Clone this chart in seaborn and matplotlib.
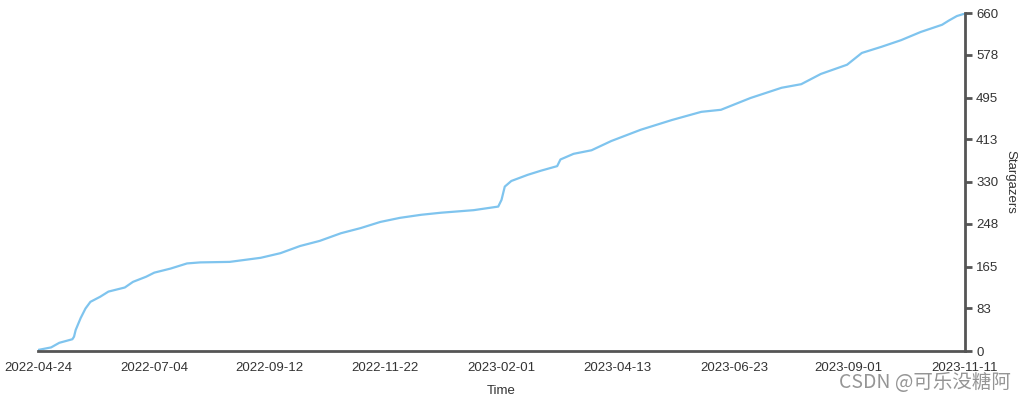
import matplotlib
matplotlib.use("Agg")
import matplotlib.pyplot as plt
import numpy as np
import pandas as pd
import seaborn as sns

# days since 2022-04-24 and star counts
days = [0, 8, 13, 21, 22, 23, 26, 29, 32, 38, 43, 53, 58, 66, 71, 81, 91, 99,
        117, 136, 148, 160, 172, 185, 197, 209, 221, 234, 246, 258, 266, 281,
        283, 285, 289, 299, 307, 317, 319, 327, 338, 350, 368, 387, 405, 417,
        435, 454, 466, 478, 494, 503, 515, 527, 539, 552, 556, 561, 567]
stars = [2, 7, 16, 23, 28, 41, 64, 83, 96, 106, 116, 124, 135, 145, 153, 161, 171, 173,
         174, 182, 191, 205, 215, 230, 240, 252, 260, 266, 270, 273, 275, 282,
         295, 321, 332, 344, 352, 361, 374, 385, 392, 410, 432, 451, 467, 471,
         494, 514, 521, 541, 559, 582, 594, 607, 623, 637, 645, 654, 660]

x_ticks = ["2022-04-24", "2022-07-04", "2022-09-12", "2022-11-22", "2023-02-01",
           "2023-04-13", "2023-06-23", "2023-09-01", "2023-11-11"]
y_ticks = [0, 83, 165, 248, 330, 413, 495, 578, 660]

start = pd.Timestamp("2022-04-24")
df = pd.DataFrame({"Time": start + pd.to_timedelta(days, unit="D"), "Stargazers": stars})

sns.set_style("white")
plt.rcParams["font.family"] = ["Liberation Sans", "DejaVu Sans"]

fig = plt.figure(figsize=(10.24, 4), dpi=100)
ax = fig.add_axes([38 / 1024, 49 / 400, 927 / 1024, 338 / 400])

sns.lineplot(data=df, x="Time", y="Stargazers", ax=ax, color="#7fc4ee",
             linewidth=1.6)

ax.set_xlim(start, pd.Timestamp("2023-11-11"))
ax.set_ylim(0, 660)
ax.set_xticks(pd.to_datetime(x_ticks))
ax.set_xticklabels(x_ticks)
ax.set_yticks(y_ticks)
ax.set_yticklabels([str(v) for v in y_ticks])

for s in ["top", "left"]:
    ax.spines[s].set_visible(False)
for s in ["bottom", "right"]:
    ax.spines[s].set_color("#555555")
    ax.spines[s].set_linewidth(2)

ax.yaxis.tick_right()
ax.yaxis.set_label_position("right")
ax.tick_params(axis="both", colors="#555555", labelcolor="#333333", labelsize=9.5,
               length=5, width=2, direction="out", pad=3)

ax.set_xlabel("Time", fontsize=9.5, color="#333333", labelpad=8)
ax.set_ylabel("Stargazers", fontsize=9.5, color="#333333", rotation=270, labelpad=13)

fig.text(0.987, 0.045, "CSDN @可乐没糖阿", ha="right", va="center", fontsize=14,
         color="#8a8a8a", alpha=0.9,
         family=["Noto Sans CJK SC", "DejaVu Sans"])

fig.savefig("out.png", dpi=100)
